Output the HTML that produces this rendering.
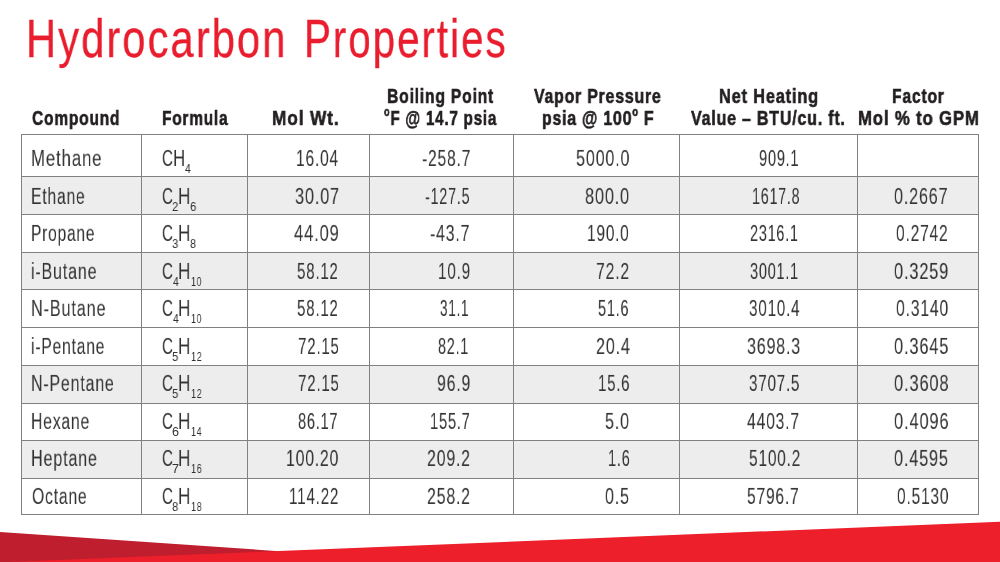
<!DOCTYPE html>
<html lang="en">
<head>
<meta charset="utf-8">
<title>Hydrocarbon Properties</title>
<style>
html,body{margin:0;padding:0;background:#fff;}
body{width:1000px;height:562px;position:relative;overflow:hidden;font-family:"Liberation Sans", sans-serif;}
.t{position:absolute;white-space:pre;line-height:1;transform-origin:0 0;will-change:transform;letter-spacing:0.05em;}
.o{font-style:normal;font-size:.6em;position:relative;top:-.74em;}
.ti{font-size:53.8px;color:#e91d2d;-webkit-text-stroke:0.3px #e91d2d;}
.h{font-size:20.7px;font-weight:700;color:#231f20;-webkit-text-stroke:0.6px #231f20;}
.b{font-size:23px;color:#323234;}
.s{font-size:12.6px;color:#323234;}
.vl{position:absolute;width:1px;background:#808183;}
.hl{position:absolute;height:1px;background:#808183;}
.sh{position:absolute;background:#ededed;}
svg{position:absolute;left:0;top:0;}
</style>
</head>
<body>
<div class="sh" style="left:21px;top:176.4px;width:957.3px;height:38.0px"></div>
<div class="sh" style="left:21px;top:252px;width:957.3px;height:37.5px"></div>
<div class="sh" style="left:21px;top:365.4px;width:957.3px;height:37.6px"></div>
<div class="sh" style="left:21px;top:440.4px;width:957.3px;height:38.0px"></div>
<div class="hl" style="left:20.5px;top:133.9px;width:958.3px"></div>
<div class="hl" style="left:20.5px;top:175.9px;width:958.3px"></div>
<div class="hl" style="left:20.5px;top:213.9px;width:958.3px"></div>
<div class="hl" style="left:20.5px;top:251.5px;width:958.3px"></div>
<div class="hl" style="left:20.5px;top:289.0px;width:958.3px"></div>
<div class="hl" style="left:20.5px;top:326.9px;width:958.3px"></div>
<div class="hl" style="left:20.5px;top:364.9px;width:958.3px"></div>
<div class="hl" style="left:20.5px;top:402.5px;width:958.3px"></div>
<div class="hl" style="left:20.5px;top:439.9px;width:958.3px"></div>
<div class="hl" style="left:20.5px;top:477.9px;width:958.3px"></div>
<div class="hl" style="left:20.5px;top:513.8px;width:958.3px"></div>
<div class="vl" style="left:20.5px;top:133.9px;height:380.9px"></div>
<div class="vl" style="left:141.0px;top:133.9px;height:380.9px"></div>
<div class="vl" style="left:247.0px;top:133.9px;height:380.9px"></div>
<div class="vl" style="left:368.5px;top:133.9px;height:380.9px"></div>
<div class="vl" style="left:512.8px;top:133.9px;height:380.9px"></div>
<div class="vl" style="left:679.0px;top:133.9px;height:380.9px"></div>
<div class="vl" style="left:857.0px;top:133.9px;height:380.9px"></div>
<div class="vl" style="left:977.8px;top:133.9px;height:380.9px"></div>
<svg width="1000" height="562" viewBox="0 0 1000 562">
<polygon points="0,531.9 279,551.15 279,562 0,562" fill="#be1e2d"/>
<polygon points="0,562.3 1000,521.8 1000,562 0,562" fill="#ec1f2b"/>
</svg>
<span class="t ti" style="left:26.21px;top:12.36px;transform:scaleX(0.7746)">Hydrocarbon</span>
<span class="t ti" style="left:303.82px;top:12.36px;transform:scaleX(0.7483)">Properties</span>
<span class="t h" style="left:31.62px;top:108.38px;transform:scaleX(0.7516)">Compound</span>
<span class="t h" style="left:162.25px;top:108.38px;transform:scaleX(0.7479)">Formula</span>
<span class="t h" style="left:271.66px;top:108.38px;transform:scaleX(0.8360)">Mol Wt.</span>
<span class="t h" style="left:387.49px;top:85.63px;transform:scaleX(0.7590)">Boiling Point</span>
<span class="t h" style="left:383.57px;top:108.38px;transform:scaleX(0.7353)"><i class=o>o</i>F @ 14.7 psia</span>
<span class="t h" style="left:534.44px;top:85.63px;transform:scaleX(0.7667)">Vapor Pressure</span>
<span class="t h" style="left:541.74px;top:108.38px;transform:scaleX(0.7647)">psia @ 100<i class=o>o</i> F</span>
<span class="t h" style="left:718.71px;top:85.63px;transform:scaleX(0.7911)">Net Heating</span>
<span class="t h" style="left:691.44px;top:108.38px;transform:scaleX(0.7730)">Value &ndash; BTU/cu. ft.</span>
<span class="t h" style="left:892.24px;top:85.63px;transform:scaleX(0.7593)">Factor</span>
<span class="t h" style="left:857.94px;top:108.38px;transform:scaleX(0.8098)">Mol % to GPM</span>
<span class="t b" style="left:30.74px;top:148.46px;transform:scale(0.7316,0.947)">Methane</span>
<span class="t b" style="left:30.83px;top:185.96px;transform:scale(0.6838,0.947)">Ethane</span>
<span class="t b" style="left:30.85px;top:223.46px;transform:scale(0.6766,0.947)">Propane</span>
<span class="t b" style="left:31.15px;top:260.96px;transform:scale(0.6992,0.947)">i-Butane</span>
<span class="t b" style="left:30.78px;top:298.46px;transform:scale(0.7081,0.947)">N-Butane</span>
<span class="t b" style="left:31.18px;top:335.96px;transform:scale(0.6822,0.947)">i-Pentane</span>
<span class="t b" style="left:30.81px;top:373.46px;transform:scale(0.6951,0.947)">N-Pentane</span>
<span class="t b" style="left:30.83px;top:410.96px;transform:scale(0.6854,0.947)">Hexane</span>
<span class="t b" style="left:30.79px;top:448.46px;transform:scale(0.7030,0.947)">Heptane</span>
<span class="t b" style="left:31.52px;top:485.96px;transform:scale(0.6846,0.947)">Octane</span>
<span class="t b" style="left:161.68px;top:148.46px;transform:scale(0.6552,0.947)">C</span>
<span class="t b" style="left:173.04px;top:148.46px;transform:scale(0.7294,0.947)">H</span>
<span class="t s" style="left:184.69px;top:163.43px;transform:scaleX(0.8308)">4</span>
<span class="t b" style="left:161.68px;top:185.96px;transform:scale(0.6552,0.947)">C</span>
<span class="t s" style="left:172.45px;top:200.93px;transform:scaleX(0.9000)">2</span>
<span class="t b" style="left:178.41px;top:185.96px;transform:scale(0.7451,0.947)">H</span>
<span class="t s" style="left:190.02px;top:200.93px;transform:scaleX(0.9043)">6</span>
<span class="t b" style="left:161.68px;top:223.46px;transform:scale(0.6552,0.947)">C</span>
<span class="t s" style="left:172.45px;top:238.43px;transform:scaleX(0.9000)">3</span>
<span class="t b" style="left:178.41px;top:223.46px;transform:scale(0.7451,0.947)">H</span>
<span class="t s" style="left:190.27px;top:238.43px;transform:scaleX(0.8667)">8</span>
<span class="t b" style="left:161.68px;top:260.96px;transform:scale(0.6552,0.947)">C</span>
<span class="t s" style="left:172.69px;top:275.93px;transform:scaleX(0.8308)">4</span>
<span class="t b" style="left:178.41px;top:260.96px;transform:scale(0.7451,0.947)">H</span>
<span class="t s" style="left:191.08px;top:275.93px;transform:scaleX(0.7170)">10</span>
<span class="t b" style="left:161.68px;top:298.46px;transform:scale(0.6552,0.947)">C</span>
<span class="t s" style="left:172.69px;top:313.43px;transform:scaleX(0.8308)">4</span>
<span class="t b" style="left:178.41px;top:298.46px;transform:scale(0.7451,0.947)">H</span>
<span class="t s" style="left:191.08px;top:313.43px;transform:scaleX(0.7170)">10</span>
<span class="t b" style="left:161.68px;top:335.96px;transform:scale(0.6552,0.947)">C</span>
<span class="t s" style="left:172.45px;top:350.93px;transform:scaleX(0.9000)">5</span>
<span class="t b" style="left:178.41px;top:335.96px;transform:scale(0.7451,0.947)">H</span>
<span class="t s" style="left:191.07px;top:350.93px;transform:scaleX(0.7308)">12</span>
<span class="t b" style="left:161.68px;top:373.46px;transform:scale(0.6552,0.947)">C</span>
<span class="t s" style="left:172.45px;top:388.43px;transform:scaleX(0.9000)">5</span>
<span class="t b" style="left:178.41px;top:373.46px;transform:scale(0.7451,0.947)">H</span>
<span class="t s" style="left:191.07px;top:388.43px;transform:scaleX(0.7308)">12</span>
<span class="t b" style="left:161.68px;top:410.96px;transform:scale(0.6552,0.947)">C</span>
<span class="t s" style="left:172.20px;top:425.93px;transform:scaleX(0.9391)">6</span>
<span class="t b" style="left:178.41px;top:410.96px;transform:scale(0.7451,0.947)">H</span>
<span class="t s" style="left:191.08px;top:425.93px;transform:scaleX(0.7170)">14</span>
<span class="t b" style="left:161.68px;top:448.46px;transform:scale(0.6552,0.947)">C</span>
<span class="t s" style="left:172.20px;top:463.43px;transform:scaleX(0.9391)">7</span>
<span class="t b" style="left:178.41px;top:448.46px;transform:scale(0.7451,0.947)">H</span>
<span class="t s" style="left:191.07px;top:463.43px;transform:scaleX(0.7308)">16</span>
<span class="t b" style="left:161.68px;top:485.96px;transform:scale(0.6552,0.947)">C</span>
<span class="t s" style="left:172.45px;top:500.93px;transform:scaleX(0.9000)">8</span>
<span class="t b" style="left:178.41px;top:485.96px;transform:scale(0.7451,0.947)">H</span>
<span class="t s" style="left:191.07px;top:500.93px;transform:scaleX(0.7308)">18</span>
<span class="t b" style="left:296.31px;top:148.46px;transform:scale(0.6778,0.947)">16.04</span>
<span class="t b" style="left:294.69px;top:185.96px;transform:scale(0.7100,0.947)">30.07</span>
<span class="t b" style="left:294.04px;top:223.46px;transform:scale(0.7207,0.947)">44.09</span>
<span class="t b" style="left:297.24px;top:260.96px;transform:scale(0.6583,0.947)">58.12</span>
<span class="t b" style="left:297.24px;top:298.46px;transform:scale(0.6583,0.947)">58.12</span>
<span class="t b" style="left:297.78px;top:335.96px;transform:scale(0.6583,0.947)">72.15</span>
<span class="t b" style="left:297.78px;top:373.46px;transform:scale(0.6583,0.947)">72.15</span>
<span class="t b" style="left:297.97px;top:410.96px;transform:scale(0.6350,0.947)">86.17</span>
<span class="t b" style="left:286.30px;top:448.46px;transform:scale(0.6884,0.947)">100.20</span>
<span class="t b" style="left:288.74px;top:485.96px;transform:scale(0.6643,0.947)">114.22</span>
<span class="t b" style="left:421.62px;top:148.46px;transform:scale(0.6807,0.947)">-258.7</span>
<span class="t b" style="left:425.37px;top:185.96px;transform:scale(0.6275,0.947)">-127.5</span>
<span class="t b" style="left:430.31px;top:223.46px;transform:scale(0.6909,0.947)">-43.7</span>
<span class="t b" style="left:437.83px;top:260.96px;transform:scale(0.6659,0.947)">10.9</span>
<span class="t b" style="left:440.11px;top:298.46px;transform:scale(0.5891,0.947)">31.1</span>
<span class="t b" style="left:438.37px;top:335.96px;transform:scale(0.6261,0.947)">82.1</span>
<span class="t b" style="left:436.61px;top:373.46px;transform:scale(0.6897,0.947)">96.9</span>
<span class="t b" style="left:429.88px;top:410.96px;transform:scale(0.6414,0.947)">155.7</span>
<span class="t b" style="left:426.73px;top:448.46px;transform:scale(0.6929,0.947)">209.2</span>
<span class="t b" style="left:426.73px;top:485.96px;transform:scale(0.6929,0.947)">258.2</span>
<span class="t b" style="left:575.70px;top:148.46px;transform:scale(0.7030,0.947)">5000.0</span>
<span class="t b" style="left:585.09px;top:185.96px;transform:scale(0.7104,0.947)">800.0</span>
<span class="t b" style="left:587.42px;top:223.46px;transform:scale(0.6723,0.947)">190.0</span>
<span class="t b" style="left:595.64px;top:260.96px;transform:scale(0.6863,0.947)">72.2</span>
<span class="t b" style="left:598.37px;top:298.46px;transform:scale(0.6314,0.947)">51.6</span>
<span class="t b" style="left:595.62px;top:335.96px;transform:scale(0.7027,0.947)">20.4</span>
<span class="t b" style="left:597.86px;top:373.46px;transform:scale(0.6527,0.947)">15.6</span>
<span class="t b" style="left:605.20px;top:410.96px;transform:scale(0.7015,0.947)">5.0</span>
<span class="t b" style="left:607.59px;top:448.46px;transform:scale(0.6349,0.947)">1.6</span>
<span class="t b" style="left:605.20px;top:485.96px;transform:scale(0.7008,0.947)">0.5</span>
<span class="t b" style="left:758.56px;top:148.46px;transform:scale(0.6367,0.947)">909.1</span>
<span class="t b" style="left:752.21px;top:185.96px;transform:scale(0.6253,0.947)">1617.8</span>
<span class="t b" style="left:750.11px;top:223.46px;transform:scale(0.6305,0.947)">2316.1</span>
<span class="t b" style="left:749.97px;top:260.96px;transform:scale(0.6324,0.947)">3001.1</span>
<span class="t b" style="left:749.24px;top:298.46px;transform:scale(0.6644,0.947)">3010.4</span>
<span class="t b" style="left:746.70px;top:335.96px;transform:scale(0.6986,0.947)">3698.3</span>
<span class="t b" style="left:749.24px;top:373.46px;transform:scale(0.6626,0.947)">3707.5</span>
<span class="t b" style="left:747.06px;top:410.96px;transform:scale(0.6846,0.947)">4403.7</span>
<span class="t b" style="left:748.53px;top:448.46px;transform:scale(0.6743,0.947)">5100.2</span>
<span class="t b" style="left:747.42px;top:485.96px;transform:scale(0.6797,0.947)">5796.7</span>
<span class="t b" style="left:894.10px;top:185.96px;transform:scale(0.7041,0.947)">0.2667</span>
<span class="t b" style="left:895.92px;top:223.46px;transform:scale(0.6797,0.947)">0.2742</span>
<span class="t b" style="left:894.09px;top:260.96px;transform:scale(0.7135,0.947)">0.3259</span>
<span class="t b" style="left:895.91px;top:298.46px;transform:scale(0.6869,0.947)">0.3140</span>
<span class="t b" style="left:893.78px;top:335.96px;transform:scale(0.7152,0.947)">0.3645</span>
<span class="t b" style="left:893.78px;top:373.46px;transform:scale(0.7176,0.947)">0.3608</span>
<span class="t b" style="left:893.78px;top:410.96px;transform:scale(0.7176,0.947)">0.4096</span>
<span class="t b" style="left:893.79px;top:448.46px;transform:scale(0.7098,0.947)">0.4595</span>
<span class="t b" style="left:896.62px;top:485.96px;transform:scale(0.6774,0.947)">0.5130</span>
</body>
</html>
